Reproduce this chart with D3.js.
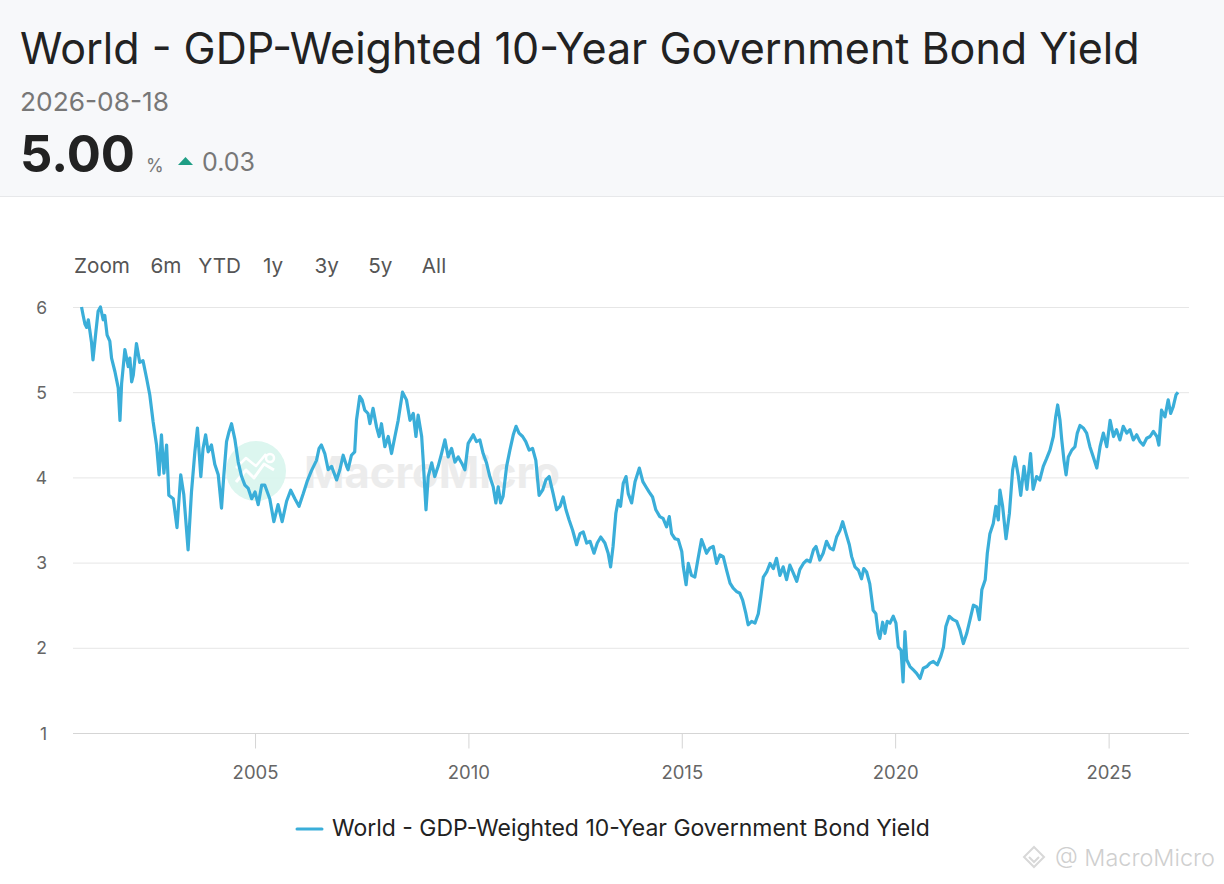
<!DOCTYPE html>
<html><head><meta charset="utf-8">
<script src="https://cdn.jsdelivr.net/npm/d3@7"></script>
<style>
html,body{margin:0;padding:0;background:#fff;}
svg{display:block;font-family:Inter,Roboto,"Noto Sans",sans-serif;}
</style>
</head><body>
<svg id="chart" width="1224" height="884"></svg>
<script>
// ---------------- data ----------------
const seriesName = "World - GDP-Weighted 10-Year Government Bond Yield";
const latestDate = "2026-08-18";
const latestValue = "5.00";
const latestUnit = "%";
const latestChange = "0.03";
const zoomLabel = "Zoom";
const rangeButtons = ["6m", "YTD", "1y", "3y", "5y", "All"];
const yTicks = [1, 2, 3, 4, 5, 6];
const xTickYears = [2005, 2010, 2015, 2020, 2025];
const xDomain = ["2000-09-26", "2026-11-20"];
const yDomain = [1, 6];

const dates = [
"2000-12-08","2000-12-22","2001-01-06","2001-01-21","2001-02-04","2001-03-03","2001-03-16","2001-04-10","2001-04-29","2001-05-19",
"2001-06-11","2001-06-25","2001-07-15","2001-08-07","2001-08-22","2001-09-20","2001-10-18","2001-11-02","2001-11-16","2001-12-14",
"2002-01-12","2002-01-26","2002-02-10","2002-02-24","2002-03-23","2002-04-20","2002-05-18","2002-06-17","2002-07-15","2002-08-13",
"2002-09-11","2002-10-03","2002-10-23","2002-11-13","2002-12-06","2002-12-25","2003-02-01","2003-03-05","2003-04-06","2003-05-02",
"2003-05-19","2003-06-08","2003-07-07","2003-08-05","2003-08-27","2003-09-25","2003-10-14","2003-11-05","2003-11-27","2003-12-25",
"2004-01-23","2004-02-21","2004-03-20","2004-04-09","2004-05-02","2004-05-24","2004-06-14","2004-07-12","2004-08-10","2004-09-08",
"2004-10-06","2004-11-04","2004-12-03","2005-01-01","2005-01-28","2005-02-27","2005-03-25","2005-05-07","2005-06-11","2005-07-17",
"2005-08-21","2005-09-28","2005-11-02","2005-12-08","2006-01-12","2006-02-18","2006-03-22","2006-04-29","2006-06-11","2006-07-03",
"2006-07-23","2006-08-21","2006-09-19","2006-10-18","2006-11-30","2006-12-28","2007-01-25","2007-02-24","2007-03-08","2007-04-06",
"2007-05-04","2007-05-19","2007-06-16","2007-07-06","2007-07-29","2007-08-26","2007-09-11","2007-10-08","2007-11-07","2007-11-29",
"2007-12-19","2008-01-17","2008-02-15","2008-03-14","2008-04-12","2008-05-10","2008-06-16","2008-07-20","2008-08-19","2008-09-16",
"2008-10-09","2008-10-28","2008-11-27","2008-12-10","2009-01-03","2009-01-22","2009-02-21","2009-03-19","2009-04-17","2009-05-16",
"2009-06-14","2009-07-12","2009-08-10","2009-09-08","2009-10-06","2009-11-04","2009-12-02","2009-12-30","2010-02-12","2010-03-11",
"2010-04-09","2010-05-07","2010-06-05","2010-07-03","2010-08-01","2010-08-24","2010-09-13","2010-10-04","2010-10-25","2010-11-24",
"2010-12-22","2011-01-20","2011-02-13","2011-03-10","2011-04-10","2011-05-07","2011-06-05","2011-07-04","2011-08-01","2011-08-29",
"2011-09-28","2011-10-26","2011-11-23","2011-12-27","2012-01-26","2012-02-24","2012-03-22","2012-04-15","2012-05-12","2012-06-11",
"2012-07-15","2012-08-13","2012-09-10","2012-10-09","2012-11-07","2012-12-11","2013-01-08","2013-02-07","2013-03-14","2013-04-11",
"2013-05-02","2013-05-23","2013-06-16","2013-07-06","2013-07-26","2013-08-18","2013-09-11","2013-09-30","2013-10-29","2013-11-27",
"2014-01-03","2014-02-02","2014-02-28","2014-03-27","2014-04-26","2014-05-24","2014-06-27","2014-07-25","2014-08-24","2014-09-16",
"2014-10-06","2014-11-04","2014-12-02","2015-01-01","2015-01-14","2015-02-07","2015-02-26","2015-03-25","2015-04-23","2015-05-21",
"2015-06-19","2015-07-11","2015-08-01","2015-08-29","2015-09-27","2015-10-26","2015-11-24","2015-12-22","2016-01-20","2016-02-18",
"2016-03-16","2016-04-15","2016-05-12","2016-06-05","2016-07-03","2016-07-22","2016-08-21","2016-09-19","2016-10-17","2016-11-07",
"2016-11-29","2016-12-28","2017-01-25","2017-02-23","2017-03-22","2017-04-20","2017-05-18","2017-06-16","2017-07-14","2017-08-12",
"2017-09-11","2017-10-08","2017-11-07","2017-12-05","2018-01-03","2018-02-01","2018-02-23","2018-03-27","2018-04-25","2018-05-24",
"2018-06-22","2018-07-20","2018-08-18","2018-09-16","2018-10-09","2018-11-07","2018-12-05","2018-12-25","2019-01-22","2019-02-21",
"2019-03-19","2019-04-08","2019-05-02","2019-05-29","2019-06-27","2019-07-20","2019-08-09","2019-08-23","2019-09-16","2019-10-06",
"2019-10-25","2019-11-18","2019-12-16","2020-01-08","2020-01-28","2020-02-21","2020-03-09","2020-03-25","2020-04-09","2020-05-07",
"2020-06-05","2020-07-03","2020-08-01","2020-08-29","2020-09-28","2020-10-25","2020-11-23","2020-12-27","2021-01-26","2021-02-18",
"2021-03-10","2021-04-08","2021-05-12","2021-06-11","2021-07-08","2021-08-07","2021-09-05","2021-10-03","2021-11-01","2021-11-30",
"2021-12-22","2022-01-12","2022-02-10","2022-02-28","2022-03-22","2022-04-20","2022-05-12","2022-06-02","2022-06-16","2022-07-09",
"2022-08-07","2022-09-05","2022-10-03","2022-10-23","2022-11-21","2022-12-11","2023-01-08","2023-02-02","2023-03-05","2023-03-27",
"2023-04-26","2023-05-23","2023-06-22","2023-07-20","2023-08-18","2023-09-16","2023-10-06","2023-10-23","2023-11-12","2023-11-27",
"2023-12-16","2024-01-03","2024-01-22","2024-02-21","2024-03-19","2024-04-08","2024-05-01","2024-05-29","2024-06-27","2024-07-25",
"2024-08-23","2024-09-22","2024-10-20","2024-11-17","2024-12-16","2025-01-14","2025-02-12","2025-03-10","2025-04-08","2025-05-06",
"2025-06-05","2025-07-03","2025-08-01","2025-08-29","2025-09-27","2025-10-25","2025-11-23","2025-12-22","2026-01-19","2026-02-18",
"2026-03-07","2026-03-30","2026-04-28","2026-05-26","2026-06-16","2026-07-08","2026-08-01","2026-08-18"
];

const yields = [
6.00,5.90,5.80,5.76,5.85,5.59,5.38,5.71,5.95,6.00,
5.85,5.90,5.67,5.60,5.40,5.24,5.05,4.67,5.10,5.50,
5.30,5.40,5.12,5.20,5.57,5.35,5.37,5.17,4.97,4.65,
4.38,4.03,4.50,4.05,4.38,3.79,3.75,3.41,4.03,3.80,
3.50,3.15,3.83,4.30,4.58,4.01,4.34,4.50,4.30,4.38,
4.15,4.03,3.64,4.03,4.42,4.54,4.63,4.45,4.18,4.01,
3.91,3.87,3.75,3.83,3.68,3.91,3.91,3.75,3.48,3.68,
3.48,3.72,3.85,3.75,3.66,3.81,3.95,4.08,4.20,4.34,
4.38,4.28,4.09,4.13,3.97,4.09,4.26,4.13,4.09,4.26,
4.30,4.67,4.95,4.91,4.79,4.75,4.63,4.81,4.59,4.48,
4.63,4.36,4.48,4.28,4.48,4.67,5.00,4.91,4.67,4.75,
4.48,4.73,4.48,4.20,3.62,4.01,4.17,4.01,4.13,4.28,
4.44,4.24,4.34,4.18,4.24,4.17,4.09,4.40,4.50,4.42,
4.44,4.28,4.17,4.01,3.89,3.70,3.89,3.70,3.78,4.13,
4.32,4.50,4.60,4.52,4.48,4.42,4.32,4.34,4.20,3.79,
3.85,3.97,4.01,3.81,3.62,3.66,3.77,3.62,3.50,3.38,
3.21,3.34,3.36,3.23,3.25,3.11,3.23,3.30,3.23,3.11,
2.95,3.19,3.58,3.73,3.66,3.93,4.01,3.81,3.70,3.95,
4.11,3.95,3.89,3.83,3.77,3.62,3.54,3.52,3.42,3.54,
3.34,3.28,3.27,3.13,2.95,2.74,2.99,2.85,2.83,3.05,
3.27,3.19,3.11,3.17,3.19,2.99,3.09,3.07,2.91,2.76,
2.70,2.66,2.64,2.56,2.40,2.27,2.31,2.29,2.40,2.60,
2.83,2.89,2.99,2.93,3.05,2.85,2.95,2.80,2.97,2.88,
2.78,2.92,2.99,3.03,3.01,3.15,3.19,3.03,3.11,3.25,
3.17,3.15,3.30,3.38,3.48,3.34,3.21,3.07,2.95,2.91,
2.81,2.93,2.89,2.75,2.44,2.40,2.17,2.11,2.30,2.17,
2.31,2.29,2.37,2.29,2.01,1.97,1.60,2.19,1.86,1.78,
1.74,1.70,1.64,1.76,1.78,1.82,1.84,1.80,1.90,2.01,
2.25,2.37,2.33,2.31,2.21,2.05,2.17,2.33,2.50,2.48,
2.33,2.68,2.80,3.11,3.34,3.46,3.66,3.50,3.85,3.66,
3.28,3.58,4.09,4.24,4.01,3.79,4.13,3.86,4.28,3.86,
4.01,3.97,4.13,4.22,4.32,4.48,4.71,4.85,4.67,4.44,
4.20,4.03,4.24,4.32,4.36,4.52,4.61,4.58,4.52,4.36,
4.24,4.11,4.36,4.52,4.36,4.67,4.48,4.56,4.44,4.60,
4.52,4.56,4.44,4.50,4.42,4.38,4.46,4.48,4.54,4.48,
4.38,4.79,4.71,4.91,4.75,4.83,4.97,5.00
];

// ---------------- drawing ----------------
const parse = d3.timeParse("%Y-%m-%d");
const data = dates.map((d, i) => ({ date: parse(d), value: yields[i] }));

const svg = d3.select("#chart");
const W = 1224;
const plot = { left: 73, right: 1189, top: 307, bottom: 733 };

function fitWidth(sel, target) {
  const len = sel.node().getComputedTextLength();
  const fs = parseFloat(sel.attr("font-size"));
  sel.attr("font-size", (fs * target / len).toFixed(2));
}

// header card
svg.append("rect").attr("x", 0).attr("y", 0).attr("width", W).attr("height", 196).attr("fill", "#f7f8fa");
svg.append("line").attr("x1", 0).attr("x2", W).attr("y1", 196.5).attr("y2", 196.5).attr("stroke", "#e7e8ea");

const t = svg.append("text").attr("x", 20).attr("y", 64).attr("font-size", 40).attr("fill", "#222")
  .text(seriesName);
fitWidth(t, 1120);

const dt = svg.append("text").attr("x", 20).attr("y", 111).attr("font-size", 23).attr("fill", "#777").text(latestDate);
fitWidth(dt, 149);

const lv = svg.append("text").attr("x", 20).attr("y", 172).attr("font-size", 52).attr("font-weight", 700)
  .attr("fill", "#222").text(latestValue);
fitWidth(lv, 115);

svg.append("text").attr("x", 146).attr("y", 172).attr("font-size", 18).attr("fill", "#777").text(latestUnit);
svg.append("path").attr("d", "M178,165 L185.5,157 L193,165 Z").attr("fill", "#1f9e85");
const ch = svg.append("text").attr("x", 202).attr("y", 171).attr("font-size", 24).attr("fill", "#777").text(latestChange);
fitWidth(ch, 53);

// range selector
const zl = svg.append("text").attr("x", 74).attr("y", 273).attr("font-size", 19).attr("fill", "#555").text(zoomLabel);
fitWidth(zl, 56);
rangeButtons.forEach((b, i) => {
  svg.append("text").attr("x", 166 + i * 53.6).attr("y", 273).attr("text-anchor", "middle")
    .attr("font-size", zl.attr("font-size")).attr("fill", "#555").text(b);
});

// scales
const x = d3.scaleTime().domain(xDomain.map(parse)).range([plot.left, plot.right]);
const y = d3.scaleLinear().domain(yDomain).range([plot.bottom, plot.top]);

// gridlines
const grid = svg.append("g");
grid.selectAll("line").data(yTicks.filter(v => v !== yDomain[0])).join("line")
  .attr("x1", plot.left).attr("x2", plot.right)
  .attr("y1", d => y(d) + 0.5).attr("y2", d => y(d) + 0.5)
  .attr("stroke", "#e6e6e6").attr("stroke-width", 1);

// y labels
svg.append("g").selectAll("text").data(yTicks).join("text")
  .attr("x", 47).attr("y", d => y(d) + 6.5).attr("text-anchor", "end")
  .attr("font-size", 17.5).attr("fill", "#666").text(d => d);

// watermark
const wm = svg.append("g").attr("opacity", 0.9);
wm.append("circle").attr("cx", 256).attr("cy", 471).attr("r", 30).attr("fill", "#d9f6ee");
wm.append("polyline").attr("points", "236,482 246,470 254,478 264,464 274,470")
  .attr("fill", "none").attr("stroke", "#fff").attr("stroke-width", 3).attr("stroke-linejoin", "round");
wm.append("polyline").attr("points", "236,468 246,458 256,466 266,454")
  .attr("fill", "none").attr("stroke", "#fff").attr("stroke-width", 2.5).attr("stroke-linejoin", "round");
wm.append("circle").attr("cx", 270).attr("cy", 458).attr("r", 4).attr("fill", "none").attr("stroke", "#fff").attr("stroke-width", 2.5);
const wmt = wm.append("text").attr("x", 304).attr("y", 488).attr("font-size", 40).attr("font-weight", 700)
  .attr("fill", "#ebebeb").text("MacroMicro");
fitWidth(wmt, 256);

// x axis
const xTickDates = xTickYears.map(yr => new Date(yr, 0, 1));
const xAxis = d3.axisBottom(x).tickValues(xTickDates).tickSize(15).tickPadding(17)
  .tickFormat(d3.timeFormat("%Y"));
const gx = svg.append("g").attr("transform", `translate(0,${plot.bottom + 0.5})`).call(xAxis);
gx.select(".domain").attr("d", `M${plot.left},0H${plot.right}`).attr("stroke", "#d5d5d5");
gx.selectAll(".tick line").attr("stroke", "#d5d5d5");
gx.selectAll(".tick text").attr("font-size", 18.5).attr("fill", "#666")
  .attr("font-family", 'Inter,Roboto,"Noto Sans",sans-serif');

// series line
const line = d3.line().x(d => x(d.date)).y(d => y(d.value)).curve(d3.curveLinear);
svg.append("path").datum(data).attr("d", line).attr("fill", "none")
  .attr("stroke", "#3aaed9").attr("stroke-width", 3.2).attr("stroke-linejoin", "round");

// legend
svg.append("line").attr("x1", 297).attr("x2", 322).attr("y1", 829).attr("y2", 829)
  .attr("stroke", "#3aaed9").attr("stroke-width", 3).attr("stroke-linecap", "round");
const lg = svg.append("text").attr("x", 332).attr("y", 836).attr("font-size", 21).attr("fill", "#222").text(seriesName);
fitWidth(lg, 598);

// credit
const cr = svg.append("g");
cr.append("path").attr("d", "M1034,847 l10,10 l-10,10 l-10,-10 Z").attr("fill", "none").attr("stroke", "#d8d8d8").attr("stroke-width", 2);
cr.append("path").attr("d", "M1029,857 l5,5 l5,-5").attr("fill", "none").attr("stroke", "#d8d8d8").attr("stroke-width", 2);
const crt = cr.append("text").attr("x", 1055).attr("y", 866).attr("font-size", 24).attr("font-weight", 300)
  .attr("fill", "#cfcfcf").text("@ MacroMicro");
fitWidth(crt, 160);
</script>
</body></html>
